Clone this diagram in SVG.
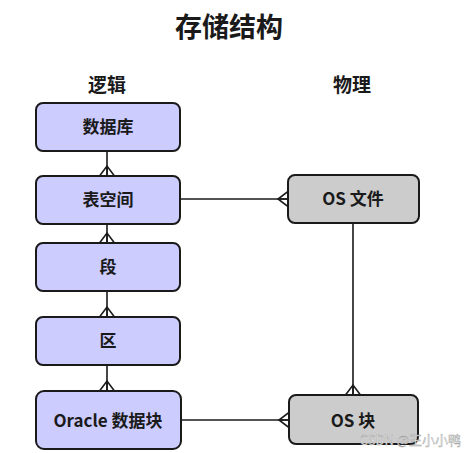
<svg xmlns="http://www.w3.org/2000/svg" width="474" height="453" viewBox="0 0 474 453">
<style>
.t{font-family:"Noto Sans CJK SC","Liberation Sans",sans-serif;font-weight:bold;fill:#1a1a1a;text-anchor:middle}
.n{font-size:17px}
.box{stroke:#1a1a1a;stroke-width:2}
.lg{fill:#ccccff}
.ph{fill:#cccccc}
.c{stroke:#1a1a1a;stroke-width:1.6;fill:none}
</style>
<defs>
<marker id="crow" viewBox="0 0 12 18" refX="12" refY="9" markerWidth="12" markerHeight="18" markerUnits="userSpaceOnUse" orient="auto">
<path d="M12,1.5 L2,9 L12,16.5 M2,9 L12,9" stroke="#1a1a1a" stroke-width="1.6" fill="none"/>
</marker>
</defs>
<rect width="474" height="453" fill="#ffffff"/>
<text class="t" x="229" y="37" font-size="27">存储结构</text>
<text class="t" x="107" y="92" font-size="19">逻辑</text>
<text class="t" x="352" y="92" font-size="19">物理</text>
<g id="connectors">
<line class="c" x1="107" y1="151" x2="107" y2="176" marker-end="url(#crow)"/>
<line class="c" x1="107" y1="224" x2="107" y2="243" marker-end="url(#crow)"/>
<line class="c" x1="107" y1="291" x2="107" y2="317" marker-end="url(#crow)"/>
<line class="c" x1="107" y1="365" x2="107" y2="391" marker-end="url(#crow)"/>
<line class="c" x1="180" y1="199" x2="288" y2="199" marker-end="url(#crow)"/>
<line class="c" x1="353" y1="223" x2="353" y2="395" marker-end="url(#crow)"/>
<line class="c" x1="181" y1="420" x2="289" y2="420" marker-end="url(#crow)"/>
</g>
<g id="node-db"><rect class="box lg" x="36" y="103" width="144" height="48" rx="7"/><text class="t n" x="108" y="133">数据库</text></g>
<g id="node-ts"><rect class="box lg" x="36" y="176" width="144" height="48" rx="7"/><text class="t n" x="108" y="206">表空间</text></g>
<g id="node-seg"><rect class="box lg" x="36" y="243" width="144" height="48" rx="7"/><text class="t n" x="108" y="273">段</text></g>
<g id="node-ext"><rect class="box lg" x="36" y="317" width="144" height="48" rx="7"/><text class="t n" x="108" y="347">区</text></g>
<g id="node-blk"><rect class="box lg" x="36" y="391" width="145" height="58" rx="8"/><text class="t n" x="108" y="427">Oracle 数据块</text></g>
<g id="node-osf"><rect class="box ph" x="288" y="175" width="131" height="48" rx="7"/><text class="t n" x="353" y="205">OS 文件</text></g>
<g id="node-osb"><rect class="box ph" x="289" y="395" width="129" height="49" rx="7"/><text class="t n" x="353" y="427">OS 块</text></g>
<text x="461" y="445" font-family="'Noto Sans CJK SC','Liberation Sans',sans-serif" font-size="13" fill="#f4f4f4" stroke="#9a9a9a" stroke-width="0.4" text-anchor="end">CSDN @王小小鸭</text>
</svg>
